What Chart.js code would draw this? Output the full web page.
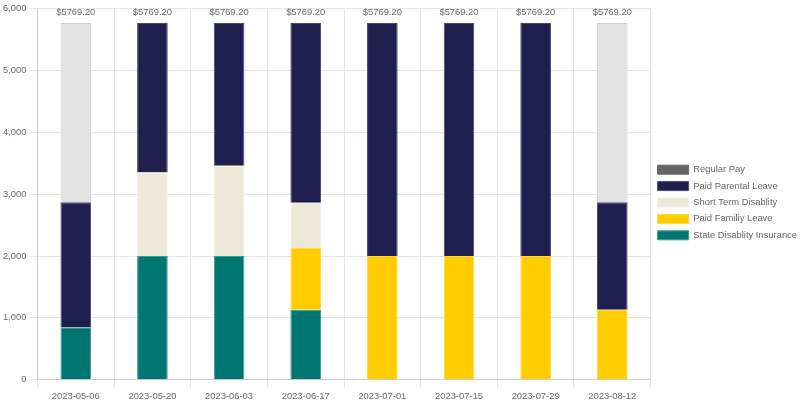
<!DOCTYPE html>
<html>
<head>
<meta charset="utf-8">
<script src="https://cdn.jsdelivr.net/npm/chart.js@4"></script>
<style>
  html, body { margin: 0; padding: 0; background: #fff; }
  #wrap { width: 800px; height: 405px; }
</style>
</head>
<body>
<div id="wrap"><canvas id="payChart"></canvas></div>
<script>
// pay periods
var periods = ['2023-05-06', '2023-05-20', '2023-06-03', '2023-06-17', '2023-07-01', '2023-07-15', '2023-07-29', '2023-08-12'];

// amounts per pay type (stacked)
var stateDisability = [850, 2000, 2000, 1130, 0, 0, 0, 0];
var paidFamilyLeave = [0, 0, 0, 1000, 2000, 2000, 2000, 1130];
var shortTermDisability = [0, 1350, 1460, 730, 0, 0, 0, 0];
var paidParentalLeave = [2020, 2419.2, 2309.2, 2909.2, 3769.2, 3769.2, 3769.2, 1740];
var regularPay = [0, 0, 0, 0, 0, 0, 0, 0];
var unpaid = [2899.2, 0, 0, 0, 0, 0, 0, 2899.2];

var totalLabels = ['$5769.20', '$5769.20', '$5769.20', '$5769.20', '$5769.20', '$5769.20', '$5769.20', '$5769.20'];
var yMax = 6000;

var fontSize = 9.4;
Chart.defaults.font.family = '"Liberation Sans", Arial, sans-serif';
Chart.defaults.font.size = fontSize;
Chart.defaults.color = '#666';

// draws the total text above each bar
var totalsPlugin = {
    id: 'totals',
    afterDatasetsDraw: function(chart) {
        var ctx = chart.ctx;
        var meta = chart.getDatasetMeta(chart.data.datasets.length - 1);
        ctx.save();
        ctx.font = fontSize + 'px "Liberation Sans", Arial, sans-serif';
        ctx.fillStyle = '#666';
        ctx.textAlign = 'center';
        ctx.textBaseline = 'bottom';
        meta.data.forEach(function(bar, i) {
            ctx.fillText(totalLabels[i], bar.x, bar.y - 6);
        });
        ctx.restore();
    }
};

var ctx = document.getElementById('payChart').getContext('2d');
var chart = new Chart(ctx, {
    type: 'bar',
    data: {
        labels: periods,
        datasets: [
            { label: 'State Disablity Insurance', data: stateDisability, backgroundColor: '#007672', borderColor: '#3f9b97', borderWidth: 1 },
            { label: 'Paid Familiy Leave', data: paidFamilyLeave, backgroundColor: '#ffcc00', borderColor: '#ffd83f', borderWidth: 1 },
            { label: 'Short Term Disablity', data: shortTermDisability, backgroundColor: '#ece9d6', borderColor: '#f2f0e2', borderWidth: 1 },
            { label: 'Paid Parental Leave', data: paidParentalLeave, backgroundColor: '#201e4e', borderColor: '#4a4870', borderWidth: 1 },
            { label: 'Regular Pay', data: regularPay, backgroundColor: '#666666', borderColor: '#666666', borderWidth: 1 },
            { label: '', data: unpaid, backgroundColor: '#e3e3e3', borderColor: '#cfcfcf', borderWidth: 1 }
        ]
    },
    options: {
        responsive: true,
        maintainAspectRatio: false,
        animation: false,
        layout: { padding: { top: 0, left: 0, bottom: 0, right: -7 } },
        datasets: { bar: { barPercentage: 0.5, categoryPercentage: 0.8 } },
        scales: {
            x: {
                stacked: true,
                grid: { color: '#e5e5e5' },
                ticks: { color: '#666' }
            },
            y: {
                stacked: true,
                min: 0,
                max: yMax,
                ticks: { stepSize: 1000, color: '#666' },
                grid: { color: '#e5e5e5' }
            }
        },
        plugins: {
            tooltip: { enabled: false },
            legend: {
                position: 'right',
                reverse: true,
                labels: {
                    boxWidth: 31,
                    boxHeight: 9,
                    padding: 7,
                    color: '#666',
                    filter: function(item) { return item.text !== ''; }
                }
            }
        }
    },
    plugins: [totalsPlugin]
});
</script>
</body>
</html>
